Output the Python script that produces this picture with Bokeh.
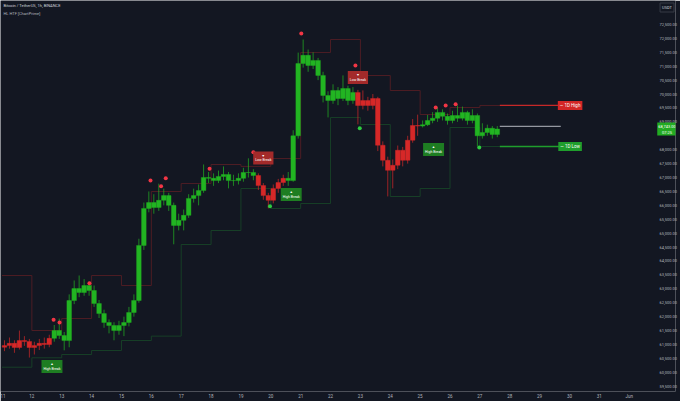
import pandas as pd
from bokeh.plotting import figure
from bokeh.models import Range1d, FixedTicker, NumeralTickFormatter, ColumnDataSource, Label
from bokeh.embed import file_html
from bokeh.resources import INLINE

# ---------------- data ----------------
START = pd.Timestamp("2024-05-11 00:00")
BAR_HOURS = 4

opens = [60900, 60960, 61040, 60890, 61140, 61110, 60890, 60960, 61040, 61000,
         61220, 61500, 61320, 61140, 62580, 63010, 62870, 63120, 62940, 62470,
         62110, 61790, 61680, 61500, 61680, 61790, 62150, 62580, 64560, 65890,
         66100, 65920, 66180, 66350, 66000, 65280, 65460, 65640, 66250, 66350,
         66530, 67000, 66970, 66890, 67040, 67110, 66890, 66890, 66970, 67180,
         67180, 67070, 66710, 66350, 66180, 66610, 66820, 66970, 66890, 68500,
         71100, 71390, 71030, 71210, 70670, 69950, 69770, 70130, 69840, 70200,
         69770, 70060, 69590, 69770, 69590, 69840, 68160, 67620, 67260, 67440,
         67980, 67620, 68340, 68870, 68850, 68900, 69050, 69130, 69340, 69200,
         69050, 69230, 69130, 69340, 69050, 69230, 68500, 68620, 68770, 68550]
closes = [60960, 61040, 60890, 61140, 61110, 60890, 60960, 61040, 61000, 61220,
          61500, 61320, 61140, 62580, 63010, 62870, 63120, 62940, 62470, 62110,
          61790, 61680, 61500, 61680, 61790, 62150, 62580, 64560, 65890, 66100,
          65920, 66180, 66350, 66000, 65280, 65460, 65640, 66250, 66350, 66530,
          67000, 66970, 66890, 67040, 67110, 66890, 66890, 66970, 67180, 67180,
          67070, 66710, 66350, 66180, 66610, 66820, 66970, 66890, 68500, 71100,
          71390, 71030, 71210, 70670, 69950, 69770, 70130, 69840, 70200, 69770,
          70060, 69590, 69770, 69590, 69840, 68160, 67620, 67260, 67440, 67980,
          67620, 68340, 68870, 68850, 68900, 69050, 69130, 69340, 69200, 69050,
          69230, 69130, 69340, 69050, 69230, 68500, 68620, 68770, 68550, 68743]
highs = [61150, 61250, 61150, 61500, 61300, 61200, 61100, 61200, 61250, 61350,
         61700, 61930, 61450, 62800, 63300, 63480, 63350, 63250, 63120, 62600,
         62250, 61900, 61800, 61850, 62000, 62350, 62800, 64800, 66100, 66500,
         66400, 66780, 66600, 66450, 66100, 65700, 65850, 66400, 66600, 66750,
         67470, 67200, 67150, 67250, 67400, 67200, 67100, 67150, 67350, 67690,
         67300, 67150, 66800, 66450, 66750, 66950, 67100, 67200, 68700, 71490,
         71960, 71600, 71500, 71300, 70800, 70100, 70350, 70250, 70670, 70300,
         70250, 70150, 70130, 69900, 70000, 69900, 68300, 67750, 67650, 68150,
         68100, 68500, 69100, 69260, 69050, 69250, 69350, 69510, 69450, 69300,
         69400, 69590, 69550, 69400, 69450, 69300, 68950, 68900, 68850, 68850]
lows = [60760, 60850, 60700, 60820, 60950, 60530, 60640, 60800, 60850, 60900,
        61100, 61200, 60790, 60900, 62450, 62700, 62750, 62750, 62350, 61950,
        61600, 61400, 61150, 61350, 61300, 61650, 62000, 62500, 64400, 65750,
        65700, 65800, 66000, 65800, 64600, 65100, 65100, 65550, 66100, 66000,
        66450, 66800, 66700, 66800, 66900, 66610, 66700, 66750, 66850, 67000,
        66900, 66550, 66200, 65890, 66070, 66450, 66700, 66700, 66850, 68400,
        70950, 70800, 70900, 70500, 69700, 69160, 69650, 69600, 69750, 69600,
        69650, 68910, 69450, 69400, 69450, 67950, 67400, 66320, 66610, 67300,
        67400, 67500, 68250, 68500, 68800, 68850, 68950, 69000, 69050, 68900,
        68950, 69000, 69050, 68900, 68950, 68120, 68400, 68500, 68400, 68450]
# market-structure state colouring the candles: (state, number of bars)
trend_runs = [("bear", 10), ("bull", 41), ("bear", 6), ("bull", 14), ("bear", 13), ("bull", 16)]

# swing markers
swing_high_times = ["2024-05-12 17:27", "2024-05-12 22:15", "2024-05-13 22:15", "2024-05-15 23:20",
                    "2024-05-16 07:50", "2024-05-16 11:35", "2024-05-17 22:48", "2024-05-19 10:00",
                    "2024-05-21 00:30", "2024-05-22 20:00", "2024-05-25 12:30", "2024-05-25 20:30",
                    "2024-05-26 04:30"]
swing_high_prices = [61887, 61790, 63202, 66893, 66688, 66976, 67314, 67910, 72180, 71030, 69520, 69590, 69630]
swing_low_times = ["2024-05-19 23:20", "2024-05-22 23:30", "2024-05-26 23:30"]
swing_low_prices = [65970, 68770, 68080]

# previous-day high / low levels, one per day (May 11 ... May 27)
level_days = ["2024-05-11", "2024-05-12", "2024-05-13", "2024-05-14", "2024-05-15", "2024-05-16",
              "2024-05-17", "2024-05-18", "2024-05-19", "2024-05-20", "2024-05-21", "2024-05-22",
              "2024-05-23", "2024-05-24", "2024-05-25", "2024-05-26", "2024-05-27"]
level_highs = [63479, 61502, 61934, 63479, 63120, 66498, 66786, 67468, 67400, 67684, 71494, 71961,
               70667, 70128, 69265, 69517, 69590]
level_lows = [60183, 60521, 60640, 60784, 61143, 61300, 64593, 65096, 66606, 65887, 66067, 69158,
              68906, 66318, 66606, 68798, 68115]
current_mid = 68840
level_end = "2024-05-29 17:00"

# break events
break_times = ["2024-05-12 16:09", "2024-05-19 18:00", "2024-05-20 16:24", "2024-05-22 22:00", "2024-05-25 10:48"]
break_prices = [60209, 67702, 66390, 70595, 68008]
break_kinds = ["High Break", "Low Break", "High Break", "Low Break", "High Break"]

y_ticks = [59500, 60000, 60500, 61000, 61500, 62000, 62500, 63000, 63500, 64000, 64500, 65000,
           65500, 66000, 66500, 67000, 67500, 68000, 69000, 69500, 70000, 70500, 71000, 71500,
           72000, 72500]
day_labels = ["11", "12", "13", "14", "15", "16", "17", "18", "19", "20", "21", "22", "23", "24",
              "25", "26", "27", "28", "29", "30", "31", "Jun"]
last_price = 68743
countdown = "07:25"
title1 = "Bitcoin / TetherUS, 1h, BINANCE"
title2 = "HL HTF [ChartPrime]"

# ---------------- styling ----------------
BG = "#131722"
GREEN = "#22b422"
RED = "#d62828"
DIM_RED = "#4d1d24"
DIM_GREEN = "#173f27"
TXT = "#b2b5be"
FONT = "Roboto"


def days(ts):
    return (pd.Timestamp(ts) - START) / pd.Timedelta(days=1)


n = len(closes)
bar_days = [(i * BAR_HOURS + BAR_HOURS / 2) / 24 for i in range(n)]
state = []
for s, k in trend_runs:
    state += [s] * k
colors = [GREEN if s == "bull" else RED for s in state]
src = ColumnDataSource(dict(x=bar_days, h=highs, l=lows,
                            top=[max(a, b) for a, b in zip(opens, closes)],
                            bot=[min(a, b) for a, b in zip(opens, closes)],
                            col=colors))

# the frame spans (almost) the whole width; the price scale is drawn over its right strip
X0, X1 = -0.05, 22.55
Y_TOP, Y_BOT = 73362, 59310
p = figure(width=680, height=401, output_backend="svg", toolbar_location=None,
           x_range=Range1d(X0, X1), y_range=Range1d(Y_BOT, Y_TOP),
           y_axis_location="right", min_border_left=0, min_border_top=0,
           min_border_right=0, min_border_bottom=10,
           background_fill_color=BG, border_fill_color=BG, outline_line_color=None)
p.grid.visible = False

# previous-day level history (step lines)
x_last = bar_days[-1] + BAR_HOURS / 48
bounds = [days(d) for d in level_days] + [x_last]
for i in range(len(level_highs)):
    x0, x1 = bounds[i], bounds[i + 1]
    p.line([x0, x1], [level_highs[i]] * 2, line_color=DIM_RED, line_width=1)
    p.line([x0, x1], [level_lows[i]] * 2, line_color=DIM_GREEN, line_width=1)
    if i + 1 < len(level_highs):
        p.line([x1, x1], [level_highs[i], level_highs[i + 1]], line_color=DIM_RED, line_width=1)
        p.line([x1, x1], [level_lows[i], level_lows[i + 1]], line_color=DIM_GREEN, line_width=1)

# current levels extended right
x_end = days(level_end)
p.line([x_last, x_end], [level_highs[-1]] * 2, line_color="#c62828", line_width=1.3)
p.line([x_last, x_end], [level_lows[-1]] * 2, line_color="#1f9e2c", line_width=1.3)
p.line([x_last, x_end], [current_mid] * 2, line_color="#9598a1", line_width=1.3)

# candles
p.segment("x", "h", "x", "l", source=src, line_color="col", line_width=0.7)
p.vbar(x="x", top="top", bottom="bot", width=0.92 * BAR_HOURS / 24, source=src,
       fill_color="col", line_color="col", line_width=0.4)

# swing dots
p.scatter([days(t) for t in swing_high_times], swing_high_prices, size=4, color="#f23645", line_width=0)
p.scatter([days(t) for t in swing_low_times], swing_low_prices, size=4, color="#2ecc40", line_width=0)

# break labels
for t, pr, kind in zip(break_times, break_prices, break_kinds):
    up = kind == "High Break"
    p.add_layout(Label(x=days(t), y=pr, text=("▲" if up else "▼") + "\n" + kind,
                       text_align="center", text_baseline="middle",
                       text_font=FONT, text_font_size="3.5px", text_color="#ffffff",
                       background_fill_color="#1e7d22" if up else "#a32a2a",
                       padding=2))

# right labels
for pr, txt, fc in [(level_highs[-1], "— 1D High", "#d32626"), (level_lows[-1], "— 1D Low", "#1f9e2c")]:
    p.add_layout(Label(x=days("2024-05-30 00:30"), y=pr, text=txt, text_align="center",
                       text_baseline="middle", text_font=FONT, text_font_size="4.5px",
                       text_color="#ffffff", background_fill_color=fc, padding=2))

# axes
yax = p.yaxis[0]
yax.ticker = FixedTicker(ticks=y_ticks)
yax.formatter = NumeralTickFormatter(format="0,0.00")
yax.major_tick_line_color = None
yax.minor_tick_line_color = None
yax.major_tick_out = 0
yax.major_tick_in = 0
yax.minor_tick_out = 0
yax.minor_tick_in = 0
yax.axis_line_color = None
yax.major_label_standoff = -16
yax.major_label_text_font = FONT
yax.major_label_text_font_size = "4px"
yax.major_label_text_color = TXT

xax = p.xaxis[0]
xax.ticker = FixedTicker(ticks=list(range(len(day_labels))))
xax.major_label_overrides = {i: s for i, s in enumerate(day_labels)}
xax.major_tick_line_color = None
xax.minor_tick_line_color = None
xax.major_tick_out = 0
xax.minor_tick_out = 0
xax.axis_line_color = None
xax.major_label_standoff = 2
xax.major_label_text_font = FONT
xax.major_label_text_font_size = "4.5px"
xax.major_label_text_color = TXT

# price tag, currency tag (in the price-scale strip) and header
TAG_X = days("2024-06-02 06:24")
p.add_layout(Label(x=TAG_X, y=last_price, text=f"{last_price:,.2f}\n{countdown}",
                   text_align="center", text_baseline="middle", text_font=FONT,
                   text_font_size="4px", text_color="#ffffff", background_fill_color="#22ab22",
                   padding=1))
p.add_layout(Label(x=TAG_X, y=73110, text="USDT",
                   text_align="center", text_baseline="middle", text_font=FONT,
                   text_font_size="4px", text_color="#d1d4dc", border_line_color="#363a45",
                   background_fill_color=BG, padding=2))
p.add_layout(Label(x=0.05, y=73180, text=title1,
                   text_baseline="middle", text_font=FONT, text_font_size="4px",
                   text_color="#d1d4dc"))
p.add_layout(Label(x=0.05, y=72880, text=title2,
                   text_baseline="middle", text_font=FONT, text_font_size="4px",
                   text_color="#b2b5be"))

open("out.html", "w").write(file_html(p, INLINE))
